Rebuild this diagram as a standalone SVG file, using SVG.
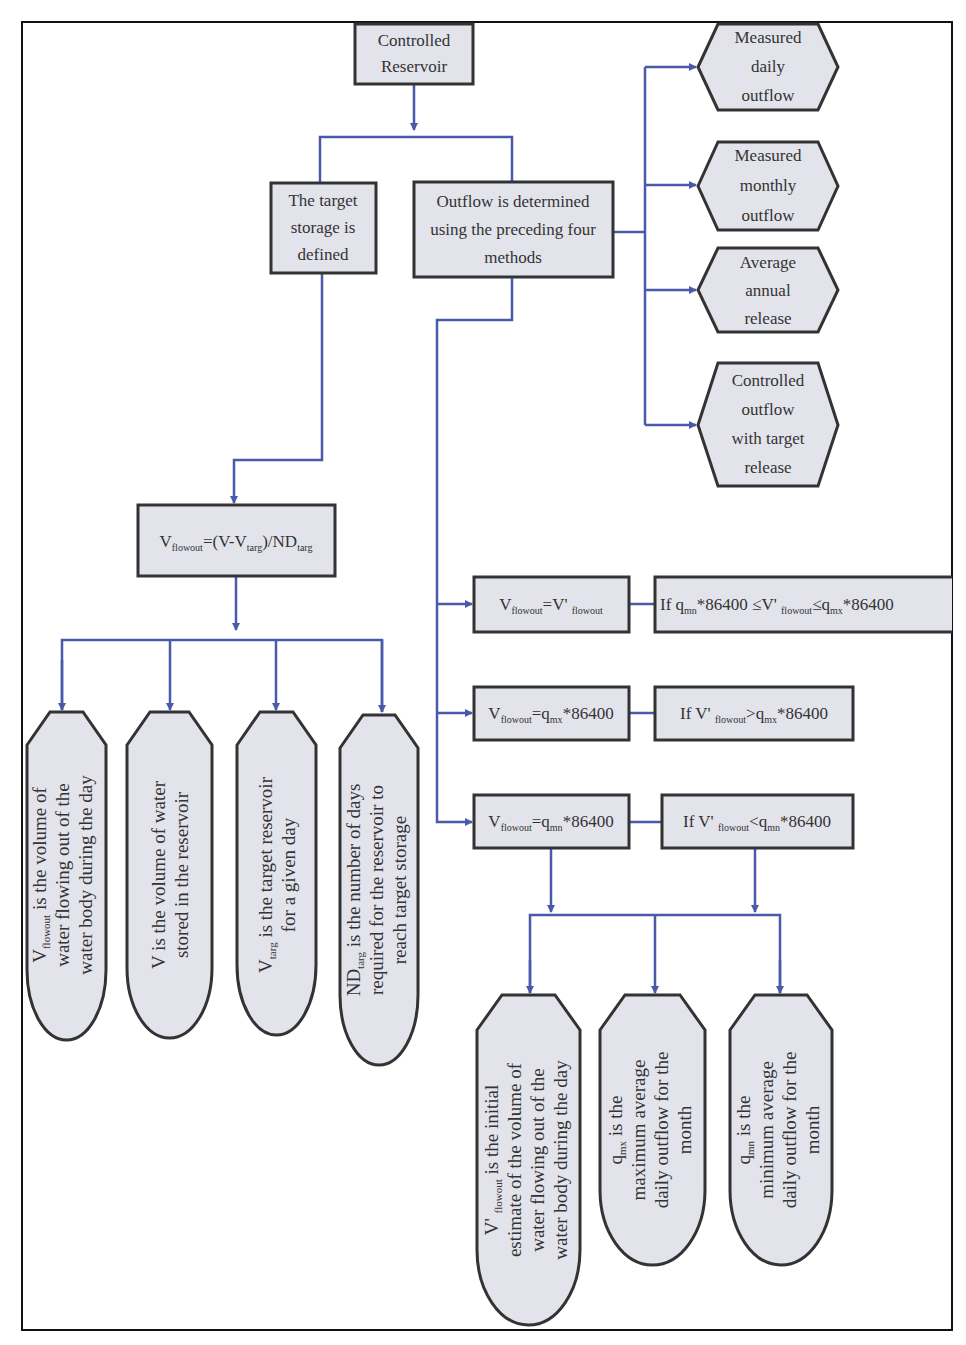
<svg xmlns="http://www.w3.org/2000/svg" width="966" height="1345" viewBox="0 0 966 1345">
<style>
.b{fill:#e3e3ec;stroke:#333;stroke-width:3}
.t{font-family:"Liberation Serif",serif;font-size:17px;fill:#333;text-anchor:middle}
.s{font-family:"Liberation Serif",serif;font-size:17px;fill:#333;text-anchor:start}
.r{font-family:"Liberation Serif",serif;font-size:19px;fill:#333;text-anchor:middle}
.c{fill:none;stroke:#4a5aa8;stroke-width:2.5}
</style>
<defs>
<marker id="a" markerWidth="8" markerHeight="8" refX="7" refY="4" orient="auto" markerUnits="userSpaceOnUse"><path d="M0,0 L8,4 L0,8 Z" fill="#4a5aa8"/></marker>
<clipPath id="cl"><rect x="22" y="22" width="930" height="1308"/></clipPath>
</defs>
<rect x="22" y="22" width="930" height="1308" fill="#fff" stroke="#111" stroke-width="2"/>
<g id="connectors">
<path class="c" d="M414,84 V130" marker-end="url(#a)"/>
<path class="c" d="M320,183 V137 H512 V183"/>
<path class="c" d="M613,232 H645"/>
<path class="c" d="M645,67 V425"/>
<path class="c" d="M645,67 H696" marker-end="url(#a)"/>
<path class="c" d="M645,185 H696" marker-end="url(#a)"/>
<path class="c" d="M645,290 H696" marker-end="url(#a)"/>
<path class="c" d="M645,425 H696" marker-end="url(#a)"/>
<path class="c" d="M322,273 V460 H234 V503" marker-end="url(#a)"/>
<path class="c" d="M236,576 V630" marker-end="url(#a)"/>
<path class="c" d="M62,710 V640 H382 V712"/>
<path class="c" d="M170,640 V710" marker-end="url(#a)"/>
<path class="c" d="M276,640 V710" marker-end="url(#a)"/>
<path class="c" d="M382,640 V712" marker-end="url(#a)"/>
<path class="c" d="M62,660 V710" marker-end="url(#a)"/>
<path class="c" d="M512,277 V320 H437 V822 H472" marker-end="url(#a)"/>
<path class="c" d="M437,604 H472" marker-end="url(#a)"/>
<path class="c" d="M437,713 H472" marker-end="url(#a)"/>
<path class="c" d="M629,604 H655 M629,713 H655 M629,822 H662"/>
<path class="c" d="M551,848 V912" marker-end="url(#a)"/>
<path class="c" d="M755,848 V912" marker-end="url(#a)"/>
<path class="c" d="M530,993 V915 H780 V993"/>
<path class="c" d="M530,960 V993" marker-end="url(#a)"/>
<path class="c" d="M655,915 V993" marker-end="url(#a)"/>
<path class="c" d="M780,960 V993" marker-end="url(#a)"/>
</g>
<g id="n-reservoir"><rect class="b" x="355" y="24" width="118" height="60"/><text class="t" x="414" y="46">Controlled</text><text class="t" x="414" y="72">Reservoir</text></g>
<g id="n-target"><rect class="b" x="271" y="183" width="105" height="90"/><text class="t" x="323" y="206">The target</text><text class="t" x="323" y="233">storage is</text><text class="t" x="323" y="260">defined</text></g>
<g id="n-outflow"><rect class="b" x="414" y="182" width="199" height="95"/><text class="t" x="513" y="207">Outflow is determined</text><text class="t" x="513" y="235">using the preceding four</text><text class="t" x="513" y="263">methods</text></g>
<g id="h1"><path class="b" d="M698,67 L718,24 H818 L838,67 L818,110 H718 Z"/><text class="t" x="768" y="43">Measured</text><text class="t" x="768" y="72">daily</text><text class="t" x="768" y="101">outflow</text></g>
<g id="h2"><path class="b" d="M698,186 L718,142 H818 L838,186 L818,230 H718 Z"/><text class="t" x="768" y="161">Measured</text><text class="t" x="768" y="191">monthly</text><text class="t" x="768" y="221">outflow</text></g>
<g id="h3"><path class="b" d="M698,290 L718,248 H818 L838,290 L818,332 H718 Z"/><text class="t" x="768" y="268">Average</text><text class="t" x="768" y="296">annual</text><text class="t" x="768" y="324">release</text></g>
<g id="h4"><path class="b" d="M698,425 L718,363 H818 L838,425 L818,486 H718 Z"/><text class="t" x="768" y="386">Controlled</text><text class="t" x="768" y="415">outflow</text><text class="t" x="768" y="444">with target</text><text class="t" x="768" y="473">release</text></g>
<g id="n-formula"><rect class="b" x="138" y="505" width="197" height="71"/><text class="t" x="236" y="547">V<tspan font-size="10" dy="4">flowout</tspan><tspan dy="-4">=(V-V</tspan><tspan font-size="10" dy="4">targ</tspan><tspan dy="-4">)/ND</tspan><tspan font-size="10" dy="4">targ</tspan></text></g>
<g id="e1"><path class="b" d="M27,745 L50,712 H83 L106,745 V970 A39.5,70 0 0 1 27,970 Z"/><g transform="translate(66,875) rotate(-90)"><text class="r" x="0" y="-20">V<tspan font-size="11" dy="4">flowout</tspan><tspan dy="-4"> is the volume of</tspan></text><text class="r" x="0" y="3">water flowing out of the</text><text class="r" x="0" y="26">water body during the day</text></g></g>
<g id="e2"><path class="b" d="M127,745 L150,712 H189 L212,745 V968 A42.5,70 0 0 1 127,968 Z"/><g transform="translate(170,875) rotate(-90)"><text class="r" x="0" y="-5">V is the volume of water</text><text class="r" x="0" y="18">stored in the reservoir</text></g></g>
<g id="e3"><path class="b" d="M237,745 L260,712 H293 L316,745 V965 A39.5,70 0 0 1 237,965 Z"/><g transform="translate(277,875) rotate(-90)"><text class="r" x="0" y="-5">V<tspan font-size="11" dy="4">targ</tspan><tspan dy="-4"> is the target reservoir</tspan></text><text class="r" x="0" y="18">for a given day</text></g></g>
<g id="e4"><path class="b" d="M340,748 L363,715 H395 L418,748 V995 A39,70 0 0 1 340,995 Z"/><g transform="translate(380,890) rotate(-90)"><text class="r" x="0" y="-20">ND<tspan font-size="11" dy="4">targ</tspan><tspan dy="-4"> is the number of days</tspan></text><text class="r" x="0" y="3">required for the reservoir to</text><text class="r" x="0" y="26">reach target storage</text></g></g>
<g id="b1"><rect class="b" x="474" y="577" width="155" height="55"/><text class="t" x="551" y="610">V<tspan font-size="10" dy="4">flowout</tspan><tspan dy="-4">=V' </tspan><tspan font-size="10" dy="4">flowout</tspan></text></g>
<g id="c1" clip-path="url(#cl)"><rect class="b" x="655" y="577" width="310" height="55"/><text class="s" x="660" y="610">If q<tspan font-size="10" dy="4">mn</tspan><tspan dy="-4">*86400 ≤V' </tspan><tspan font-size="10" dy="4">flowout</tspan><tspan dy="-4">≤q</tspan><tspan font-size="10" dy="4">mx</tspan><tspan dy="-4">*86400</tspan></text></g>
<g id="b2"><rect class="b" x="474" y="687" width="155" height="53"/><text class="t" x="551" y="719">V<tspan font-size="10" dy="4">flowout</tspan><tspan dy="-4">=q</tspan><tspan font-size="10" dy="4">mx</tspan><tspan dy="-4">*86400</tspan></text></g>
<g id="c2"><rect class="b" x="655" y="687" width="198" height="53"/><text class="t" x="754" y="719">If V' <tspan font-size="10" dy="4">flowout</tspan><tspan dy="-4">&gt;q</tspan><tspan font-size="10" dy="4">mx</tspan><tspan dy="-4">*86400</tspan></text></g>
<g id="b3"><rect class="b" x="474" y="795" width="155" height="53"/><text class="t" x="551" y="827">V<tspan font-size="10" dy="4">flowout</tspan><tspan dy="-4">=q</tspan><tspan font-size="10" dy="4">mn</tspan><tspan dy="-4">*86400</tspan></text></g>
<g id="c3"><rect class="b" x="662" y="795" width="191" height="53"/><text class="t" x="757" y="827">If V' <tspan font-size="10" dy="4">flowout</tspan><tspan dy="-4">&lt;q</tspan><tspan font-size="10" dy="4">mn</tspan><tspan dy="-4">*86400</tspan></text></g>
<g id="e5"><path class="b" d="M477,1030 L502,995 H555 L580,1030 V1250 A51.5,75 0 0 1 477,1250 Z"/><g transform="translate(529,1160) rotate(-90)"><text class="r" x="0" y="-31">V' <tspan font-size="11" dy="4">flowout</tspan><tspan dy="-4"> is the initial</tspan></text><text class="r" x="0" y="-8">estimate of the volume of</text><text class="r" x="0" y="15">water flowing out of the</text><text class="r" x="0" y="38">water body during the day</text></g></g>
<g id="e6"><path class="b" d="M600,1030 L625,995 H680 L705,1030 V1190 A52.5,75 0 0 1 600,1190 Z"/><g transform="translate(653,1130) rotate(-90)"><text class="r" x="0" y="-31">q<tspan font-size="11" dy="4">mx</tspan><tspan dy="-4"> is the</tspan></text><text class="r" x="0" y="-8">maximum average</text><text class="r" x="0" y="15">daily outflow for the</text><text class="r" x="0" y="38">month</text></g></g>
<g id="e7"><path class="b" d="M730,1030 L755,995 H807 L832,1030 V1190 A51,75 0 0 1 730,1190 Z"/><g transform="translate(781,1130) rotate(-90)"><text class="r" x="0" y="-31">q<tspan font-size="11" dy="4">mn</tspan><tspan dy="-4"> is the</tspan></text><text class="r" x="0" y="-8">minimum average</text><text class="r" x="0" y="15">daily outflow for the</text><text class="r" x="0" y="38">month</text></g></g>
</svg>
